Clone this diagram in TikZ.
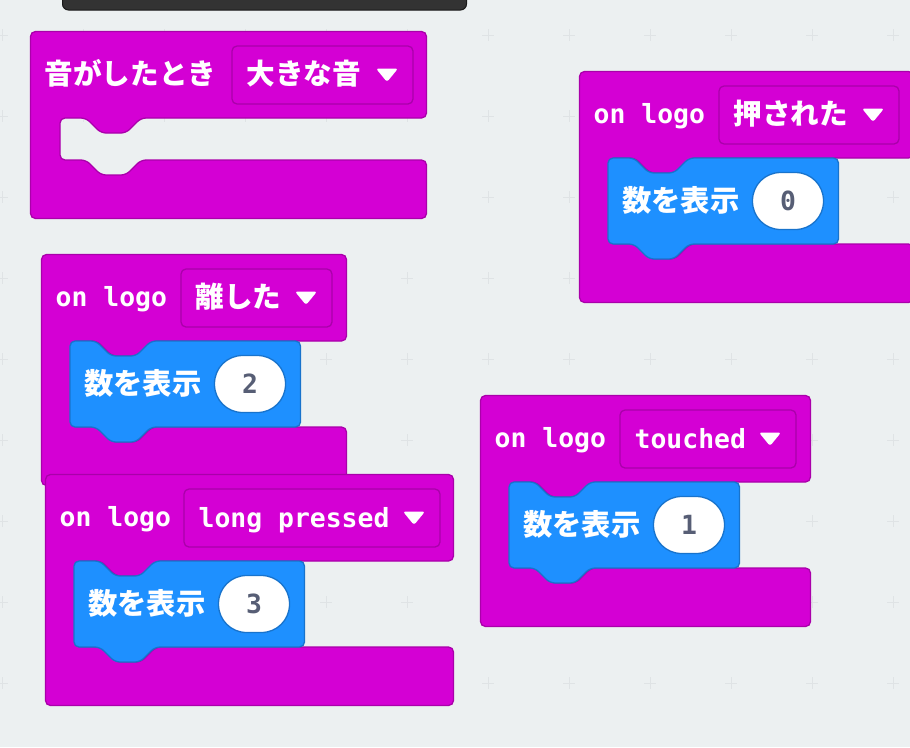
\documentclass[tikz,border=0pt]{standalone}
\usepackage{fontspec}
\newfontfamily\jpfont{Noto Sans CJK JP}
\newfontfamily\monofnt{DejaVu Sans Mono}
\definecolor{bgc}{HTML}{ECF0F1}
\definecolor{crossc}{HTML}{DFE3E5}
\definecolor{mag}{HTML}{D400D4}
\definecolor{magd}{HTML}{AA00AA}
\definecolor{blu}{HTML}{1E90FF}
\definecolor{blud}{HTML}{1873CC}
\definecolor{digitc}{HTML}{575E75}
\newcommand\jpt{\jpfont\bfseries\fontsize{28.6}{30}\selectfont}
\newcommand\jps{\jpfont\bfseries\fontsize{29.3}{30}\selectfont}
\newcommand\mot{\monofnt\bfseries\fontsize{26.4}{30}\selectfont}
% id, x, y, right, mouth height
\newcommand\hatbody[5]{%
  \draw[magblock] (#2+.5,#3+20) -- (#2+.5,#3+.5) -- (#4-.5,#3+.5) -- (#4-.5,#3+87) -- (#2+111,#3+87) -- (#2+96,#3+102) -- (#2+71,#3+102) -- (#2+56,#3+87) -- (#2+30,#3+87)
    -- (#2+30,#3+87+#5) -- (#2+56,#3+87+#5) -- (#2+71,#3+102+#5) -- (#2+96,#3+102+#5) -- (#2+111,#3+87+#5) -- (#4-.5,#3+87+#5) -- (#4-.5,#3+145.5+#5) -- (#2+.5,#3+145.5+#5) -- cycle;}
% id, x, y, ddleft, ddright, font+text
\newcommand\dropdown[6]{%
  \draw[ddbox] (#4,#3+15) rectangle (#5,#3+73);
  \node[lbl,anchor=base west] (#1dd) at (#4+14.5,#3+53) {#6};
  \fill[white,rounded corners=2.5pt] (#5-37,#3+37.5) -- (#5-15,#3+37.5) -- (#5-26,#3+51) -- cycle;}
% id, x, y, digit
\newcommand\showblock[4]{%
  \draw[blublock] (#2+29,#3+107) -- (#2+29,#3+87) -- (#2+55,#3+87) -- (#2+70,#3+102) -- (#2+95,#3+102) -- (#2+110,#3+87) -- (#2+259.5,#3+87) -- (#2+259.5,#3+173) -- (#2+110,#3+173) -- (#2+95,#3+188) -- (#2+70,#3+188) -- (#2+55,#3+173) -- (#2+29,#3+173) -- cycle;
  \node[lbl,anchor=base west] (#1show) at (#2+43,#3+140) {\jps 数を表示};
  \node[oval] (#1val) at (#2+209,#3+130) {};
  \node[anchor=base,inner sep=0pt,text=digitc] (#1dig) at (#2+209,#3+139) {\mot #4};}
% id, x, y, right, ddleft, ddright, font+text, digit
\newcommand\onlogo[8]{%
  \hatbody{#1}{#2}{#3}{#4}{86}
  \node[lbl,anchor=base west] (#1lbl) at (#2+14.5,#3+52) {\mot on logo};
  \dropdown{#1}{#2}{#3}{#5}{#6}{#7}
  \showblock{#1}{#2}{#3}{#8}}
\tikzset{
  magblock/.style={fill=mag,draw=magd,line width=1.3pt,rounded corners=5pt},
  blublock/.style={fill=blu,draw=blud,line width=1.3pt,rounded corners=5pt},
  ddbox/.style={draw=magd,line width=1.3pt,rounded corners=5pt},
  lbl/.style={inner sep=0pt,text=white},
  oval/.style={fill=white,draw=blud,line width=1.3pt,rounded corners=28pt,minimum width=71pt,minimum height=57pt,inner sep=0pt,rectangle},
  crossm/.style={draw=crossc,line width=1pt},
}
\begin{document}
\begin{tikzpicture}[x=1pt,y=-1pt]
\useasboundingbox (0,0) rectangle (910,747);
\clip (0,0) rectangle (910,747);
\fill[bgc] (0,0) rectangle (910,747);
\foreach \gx in {2,83,...,893}{
  \foreach \gy in {35,116,...,683}{
    \draw[crossm] (\gx-6,\gy) -- (\gx+6,\gy) (\gx,\gy-6) -- (\gx,\gy+6);
  }
}
% top toolbar
\draw[fill=black!80!white,draw=black!90,line width=1pt,rounded corners=6pt] (62.5,-12) rectangle (466.5,10);
% sound block
\hatbody{snd}{30}{31}{427}{42}
\node[lbl,anchor=base west] (sndlbl) at (44.5,84) {\jpt 音がしたとき};
\dropdown{snd}{30}{31}{232}{413}{\jpt 大きな音}
% logo blocks
\onlogo{pre}{579}{71}{914}{719}{899}{\jpt 押された}{0}
\onlogo{rel}{41}{254}{347}{181}{332}{\jpt 離した}{2}
\onlogo{lng}{45}{474}{454}{184}{440}{\mot long pressed}{3}
\onlogo{tch}{480}{395}{811}{620}{796}{\mot touched}{1}
\end{tikzpicture}
\end{document}
